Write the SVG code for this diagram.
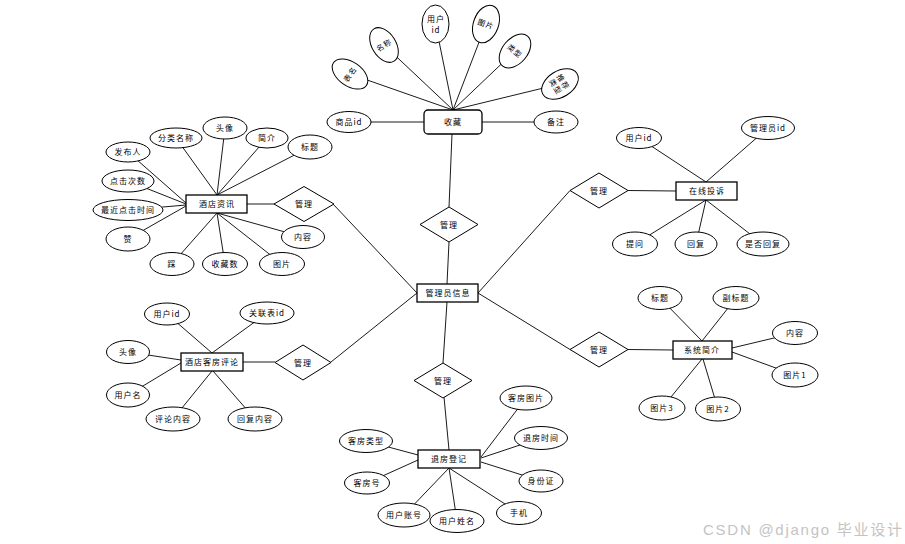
<svg xmlns="http://www.w3.org/2000/svg" width="905" height="544" viewBox="0 0 905 544">
<style>
.e{fill:#fff;stroke:#000;stroke-width:1}
.r{fill:#fff;stroke:#000;stroke-width:1.3}
.d{fill:#fff;stroke:#000;stroke-width:1}
.c line{stroke:#000;stroke-width:0.9}
text{font-family:"Noto Sans CJK SC","Noto Sans",sans-serif;font-size:8px;fill:#000;text-anchor:middle;letter-spacing:1px}
.rt{font-size:7.5px}
.wm{font-family:"Liberation Sans","Noto Sans CJK SC",sans-serif;font-size:15px;fill:#c4c4c4;text-anchor:start;letter-spacing:0}
</style>
<rect width="905" height="544" fill="#fff"/>
<g class="c" id="connectors">
<line x1="350" y1="74" x2="453" y2="110"/>
<line x1="384" y1="45" x2="453" y2="110"/>
<line x1="435.5" y1="24" x2="453" y2="110"/>
<line x1="486" y1="24" x2="453" y2="110"/>
<line x1="515" y1="51" x2="453" y2="110"/>
<line x1="560" y1="84" x2="453" y2="110"/>
<line x1="349" y1="122" x2="424" y2="122"/>
<line x1="556" y1="122" x2="482" y2="122"/>
<line x1="452" y1="134" x2="449" y2="207"/>
<line x1="449" y1="242" x2="447" y2="284"/>
<line x1="128" y1="152" x2="186" y2="203"/>
<line x1="128" y1="181" x2="186" y2="204"/>
<line x1="128" y1="210" x2="186" y2="205"/>
<line x1="128" y1="239" x2="186" y2="206"/>
<line x1="176" y1="138" x2="217" y2="195"/>
<line x1="225" y1="128" x2="217" y2="195"/>
<line x1="267" y1="138" x2="217" y2="195"/>
<line x1="310" y1="147" x2="217" y2="195"/>
<line x1="172" y1="264" x2="217" y2="213"/>
<line x1="225" y1="264" x2="217" y2="213"/>
<line x1="282" y1="264" x2="217" y2="213"/>
<line x1="303" y1="237" x2="217" y2="213"/>
<line x1="247" y1="204" x2="275" y2="204"/>
<line x1="333" y1="204" x2="417" y2="293"/>
<line x1="167" y1="314" x2="212" y2="353"/>
<line x1="267" y1="313" x2="212" y2="353"/>
<line x1="128" y1="352" x2="181" y2="360"/>
<line x1="128" y1="395" x2="181" y2="363"/>
<line x1="173" y1="419" x2="212" y2="371"/>
<line x1="255" y1="419" x2="213" y2="371"/>
<line x1="243" y1="362" x2="275" y2="362"/>
<line x1="331" y1="362" x2="417" y2="293"/>
<line x1="366" y1="441" x2="418" y2="455"/>
<line x1="367" y1="483" x2="418" y2="460"/>
<line x1="526" y1="398" x2="481" y2="457"/>
<line x1="541" y1="438" x2="481" y2="458"/>
<line x1="541" y1="481" x2="481" y2="462"/>
<line x1="519" y1="513" x2="449" y2="468"/>
<line x1="457" y1="521" x2="449" y2="468"/>
<line x1="404" y1="515" x2="449" y2="468"/>
<line x1="444" y1="397" x2="449" y2="450"/>
<line x1="443" y1="363" x2="447" y2="302"/>
<line x1="639" y1="138" x2="706" y2="182"/>
<line x1="768" y1="128" x2="706" y2="182"/>
<line x1="635" y1="244" x2="706" y2="200"/>
<line x1="696" y1="244" x2="706" y2="200"/>
<line x1="763" y1="244" x2="706" y2="200"/>
<line x1="628" y1="190.5" x2="676" y2="191"/>
<line x1="570" y1="190.5" x2="478" y2="293"/>
<line x1="660" y1="298" x2="702" y2="341"/>
<line x1="736" y1="298" x2="702" y2="341"/>
<line x1="795" y1="333" x2="732" y2="348"/>
<line x1="795" y1="375" x2="732" y2="352"/>
<line x1="662" y1="408" x2="702" y2="359"/>
<line x1="718" y1="409" x2="703" y2="359"/>
<line x1="628" y1="349.5" x2="673" y2="350"/>
<line x1="570" y1="349.5" x2="478" y2="293"/>
</g>

<!-- 收藏 -->
<g id="shoucang"><rect class="r" x="424" y="110" width="58" height="24" rx="4"/><text x="453" y="125">收藏</text></g>
<g id="sc-biaoming" transform="translate(350,74) rotate(-55)"><ellipse class="e" cx="0" cy="0" rx="12" ry="20"/><text class="rt" x="0" y="3">表名</text></g>
<g id="sc-mingcheng" transform="translate(384,45) rotate(-32)"><ellipse class="e" cx="0" cy="0" rx="12" ry="19"/><text class="rt" x="0" y="3">名称</text></g>
<g id="sc-yonghuid"><ellipse class="e" cx="435.5" cy="24" rx="13.5" ry="19"/><text x="436" y="22">用户</text><text x="436" y="33">id</text></g>
<g id="sc-tupian" transform="translate(486,24) rotate(20)"><ellipse class="e" cx="0" cy="0" rx="12.5" ry="19.5"/><text class="rt" x="0" y="3">图片</text></g>
<g id="sc-leixing" transform="translate(515,51) rotate(40)"><ellipse class="e" cx="0" cy="0" rx="12.5" ry="19.5"/><text class="rt" x="0" y="3">类型</text></g>
<g id="sc-tuijian" transform="translate(560,84) rotate(58)"><ellipse class="e" cx="0" cy="0" rx="13" ry="20"/><text class="rt" x="0" y="-1">推荐</text><text class="rt" x="0" y="8">类型</text></g>
<g id="sc-shangpinid"><ellipse class="e" cx="349" cy="122" rx="22" ry="10.5"/><text x="349" y="125">商品id</text></g>
<g id="sc-beizhu"><ellipse class="e" cx="556" cy="122" rx="22" ry="11"/><text x="556" y="125">备注</text></g>
<g id="d-top"><polygon class="d" points="449,207 478,224.5 449,242 420,224.5"/><text x="449" y="227.5">管理</text></g>

<!-- 管理员信息 -->
<g id="admin"><rect class="r" x="417" y="284" width="61" height="18"/><text x="448" y="296">管理员信息</text></g>

<!-- 酒店资讯 -->
<g id="news"><rect class="r" x="186" y="195" width="61" height="18"/><text x="217" y="207">酒店资讯</text></g>
<g id="d-news"><polygon class="d" points="304,186.5 334,204 304,221.5 274,204"/><text x="304" y="207">管理</text></g>
<g id="n1"><ellipse class="e" cx="128" cy="152" rx="22" ry="10"/><text x="128" y="155">发布人</text></g>
<g id="n2"><ellipse class="e" cx="176" cy="138" rx="26" ry="10"/><text x="176" y="141">分类名称</text></g>
<g id="n3"><ellipse class="e" cx="225" cy="128" rx="22" ry="11"/><text x="225" y="131">头像</text></g>
<g id="n4"><ellipse class="e" cx="267" cy="138" rx="21" ry="10"/><text x="267" y="141">简介</text></g>
<g id="n5"><ellipse class="e" cx="310" cy="147" rx="22" ry="12"/><text x="310" y="150">标题</text></g>
<g id="n6"><ellipse class="e" cx="128" cy="181" rx="26" ry="11"/><text x="128" y="184">点击次数</text></g>
<g id="n7"><ellipse class="e" cx="128" cy="210" rx="35" ry="10.5"/><text x="128" y="213">最近点击时间</text></g>
<g id="n8"><ellipse class="e" cx="128" cy="239" rx="22" ry="12"/><text x="128" y="242">赞</text></g>
<g id="n9"><ellipse class="e" cx="172" cy="264" rx="22" ry="11.5"/><text x="172" y="267">踩</text></g>
<g id="n10"><ellipse class="e" cx="225" cy="264" rx="22.5" ry="11.5"/><text x="225" y="267">收藏数</text></g>
<g id="n11"><ellipse class="e" cx="282" cy="264" rx="22.5" ry="11.5"/><text x="282" y="267">图片</text></g>
<g id="n12"><ellipse class="e" cx="303" cy="237" rx="21.5" ry="11.5"/><text x="303" y="240">内容</text></g>

<!-- 酒店客房评论 -->
<g id="review"><rect class="r" x="181" y="353" width="62" height="18"/><text x="212" y="365">酒店客房评论</text></g>
<g id="d-review"><polygon class="d" points="303,345 331,362.5 303,380 275,362.5"/><text x="303" y="365.5">管理</text></g>
<g id="r1"><ellipse class="e" cx="167" cy="314" rx="22.5" ry="11"/><text x="167" y="317">用户id</text></g>
<g id="r2"><ellipse class="e" cx="267" cy="313" rx="27" ry="11"/><text x="267" y="316">关联表id</text></g>
<g id="r3"><ellipse class="e" cx="128" cy="352" rx="21.5" ry="11.5"/><text x="128" y="355">头像</text></g>
<g id="r4"><ellipse class="e" cx="128" cy="395" rx="21.5" ry="12"/><text x="128" y="398">用户名</text></g>
<g id="r5"><ellipse class="e" cx="173" cy="419" rx="27" ry="12"/><text x="173" y="422">评论内容</text></g>
<g id="r6"><ellipse class="e" cx="255" cy="419" rx="27" ry="12"/><text x="255" y="422">回复内容</text></g>

<!-- 退房登记 -->
<g id="checkout"><rect class="r" x="418" y="450" width="62" height="18"/><text x="449" y="462">退房登记</text></g>
<g id="d-checkout"><polygon class="d" points="443,363 472,380.5 443,398 414,380.5"/><text x="443" y="383.5">管理</text></g>
<g id="t1"><ellipse class="e" cx="526" cy="398" rx="26" ry="12"/><text x="526" y="401">客房图片</text></g>
<g id="t2"><ellipse class="e" cx="366" cy="441" rx="26.5" ry="11.5"/><text x="366" y="444">客房类型</text></g>
<g id="t3"><ellipse class="e" cx="541" cy="438" rx="26.5" ry="11.5"/><text x="541" y="441">退房时间</text></g>
<g id="t4"><ellipse class="e" cx="367" cy="483" rx="22.5" ry="11"/><text x="367" y="486">客房号</text></g>
<g id="t5"><ellipse class="e" cx="541" cy="481" rx="22" ry="11"/><text x="541" y="484">身份证</text></g>
<g id="t6"><ellipse class="e" cx="404" cy="515" rx="26" ry="12"/><text x="404" y="518">用户账号</text></g>
<g id="t7"><ellipse class="e" cx="457" cy="521" rx="27" ry="11.5"/><text x="457" y="524">用户姓名</text></g>
<g id="t8"><ellipse class="e" cx="519" cy="513" rx="22.5" ry="11.5"/><text x="519" y="516">手机</text></g>

<!-- 在线投诉 -->
<g id="complaint"><rect class="r" x="676" y="182" width="61" height="18"/><text x="707" y="194">在线投诉</text></g>
<g id="d-complaint"><polygon class="d" points="599,173 628,190.5 599,208 570,190.5"/><text x="599" y="193.5">管理</text></g>
<g id="c1"><ellipse class="e" cx="639" cy="138" rx="22.5" ry="10.5"/><text x="639" y="141">用户id</text></g>
<g id="c2"><ellipse class="e" cx="768" cy="128" rx="26.5" ry="11.5"/><text x="768" y="131">管理员id</text></g>
<g id="c3"><ellipse class="e" cx="635" cy="244" rx="22.5" ry="12"/><text x="635" y="247">提问</text></g>
<g id="c4"><ellipse class="e" cx="696" cy="244" rx="21" ry="12"/><text x="696" y="247">回复</text></g>
<g id="c5"><ellipse class="e" cx="763" cy="244" rx="26" ry="12"/><text x="763" y="247">是否回复</text></g>

<!-- 系统简介 -->
<g id="intro"><rect class="r" x="673" y="341" width="59" height="18"/><text x="702" y="353">系统简介</text></g>
<g id="d-intro"><polygon class="d" points="599,332 628,349.5 599,367 570,349.5"/><text x="599" y="352.5">管理</text></g>
<g id="s1"><ellipse class="e" cx="660" cy="298" rx="22" ry="11.5"/><text x="660" y="301">标题</text></g>
<g id="s2"><ellipse class="e" cx="736" cy="298" rx="23" ry="11.5"/><text x="736" y="301">副标题</text></g>
<g id="s3"><ellipse class="e" cx="795" cy="333" rx="22.5" ry="11.5"/><text x="795" y="336">内容</text></g>
<g id="s4"><ellipse class="e" cx="795" cy="375" rx="23" ry="12"/><text x="795" y="378">图片1</text></g>
<g id="s5"><ellipse class="e" cx="662" cy="408" rx="23" ry="12"/><text x="662" y="411">图片3</text></g>
<g id="s6"><ellipse class="e" cx="718" cy="409" rx="22.5" ry="12"/><text x="718" y="412">图片2</text></g>

<text class="wm" x="703" y="535" textLength="199" lengthAdjust="spacing">CSDN @django  毕业设计</text>
</svg>
